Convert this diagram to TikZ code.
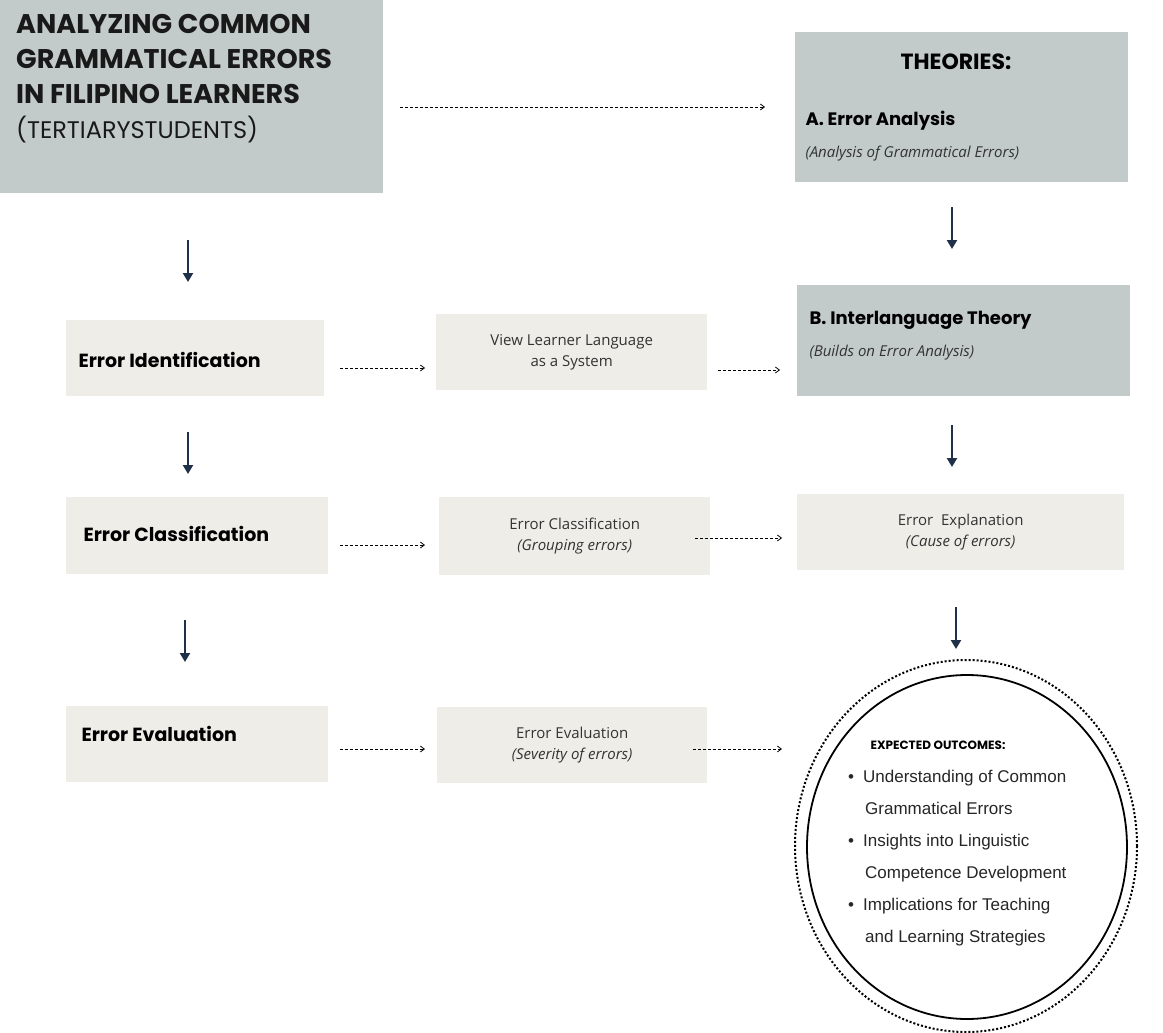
\documentclass[tikz,border=0pt]{standalone}
\usepackage{fontspec}
\setmainfont{Open Sans}
\newfontfamily\pop{Poppins}
\newfontfamily\ari{Liberation Sans}
\usetikzlibrary{arrows.meta,shapes.geometric}
\definecolor{slate}{HTML}{C3CBCA}
\definecolor{cream}{HTML}{EFEDE8}
\definecolor{navy}{HTML}{1F3049}
\begin{document}
\begin{tikzpicture}[x=1pt,y=-1pt,
  gbox/.style={fill=slate,draw=none,inner sep=0,anchor=north west},
  cbox/.style={fill=cream,draw=none,inner sep=0,anchor=north west},
  down/.style={navy,line width=2.2pt,-{Triangle[length=9pt,width=10pt]}},
  dasharrow/.style={densely dashed,line width=0.8pt,-{Straight Barb[length=4pt,width=6pt]}},
  lbl/.style={align=center,font=\fontsize{15}{21}\selectfont,text=black!80}]
\useasboundingbox (0,0) rectangle (1163,1033);
\fill[white] (0,0) rectangle (1163,1033);
% boxes
\node[gbox,minimum width=383pt,minimum height=193pt] (title) at (0,0) {};
\node[anchor=north west,align=left,inner sep=0,font=\pop\bfseries\fontsize{27}{35}\selectfont,text=black!90] at (16,14)
 {ANALYZING COMMON\\GRAMMATICAL ERRORS\\IN FILIPINO LEARNERS\\{\mdseries\fontsize{24}{30}\selectfont (TERTIARYSTUDENTS)}};
\node[gbox,minimum width=333pt,minimum height=150pt] (th) at (795,32) {};
\node[font=\pop\bfseries\fontsize{22}{26}\selectfont] at (956,62) {THEORIES:};
\node[anchor=west,font=\pop\bfseries\fontsize{18}{22}\selectfont] at (802,121) {A. Error Analysis};
\node[anchor=west,font=\itshape\fontsize{15}{20}\selectfont,text=black!80] at (802,154) {(Analysis of Grammatical Errors)};
\node[gbox,minimum width=333pt,minimum height=111pt] (il) at (797,285) {};
\node[anchor=west,font=\pop\bfseries\fontsize{18}{22}\selectfont] at (806,320) {B. Interlanguage Theory};
\node[anchor=west,font=\itshape\fontsize{15}{20}\selectfont,text=black!80] at (806,353) {(Builds on Error Analysis)};

\node[cbox,minimum width=258pt,minimum height=76pt] (ei) at (66,320) {};
\node[anchor=west,font=\pop\bfseries\fontsize{19}{22}\selectfont] at (75,360) {Error Identification};
\node[cbox,minimum width=271pt,minimum height=76pt] (vl) at (436,314) {};
\node[lbl] at (vl.center) {View Learner Language\\as a System};

\node[cbox,minimum width=262pt,minimum height=77pt] (ec) at (66,497) {};
\node[anchor=west,font=\pop\bfseries\fontsize{19}{22}\selectfont] at (80,534) {Error Classification};
\node[cbox,minimum width=271pt,minimum height=78pt] (ecm) at (439,497) {};
\node[lbl] at (ecm.center) {Error Classification\\\itshape(Grouping errors)};
\node[cbox,minimum width=327pt,minimum height=76pt] (ee) at (797,494) {};
\node[lbl] at (ee.center) {Error\ \ Explanation\\\itshape(Cause of errors)};

\node[cbox,minimum width=262pt,minimum height=76pt] (ev) at (66,706) {};
\node[anchor=west,font=\pop\bfseries\fontsize{19}{22}\selectfont] at (78,734) {Error Evaluation};
\node[cbox,minimum width=270pt,minimum height=76pt] (evm) at (437,707) {};
\node[lbl] at (evm.center) {Error Evaluation\\\itshape(Severity of errors)};

% circle
\node[draw,dotted,line width=2pt,ellipse,minimum width=342pt,minimum height=372pt,inner sep=0] (oc) at (966,846) {};
\draw[line width=1.8pt] (967,847) ellipse [x radius=160, y radius=172];
\node[anchor=west,font=\pop\bfseries\fontsize{12}{14}\selectfont] at (867,745) {EXPECTED OUTCOMES:};
\node[anchor=north west,align=left,inner sep=0,font=\ari\fontsize{17}{32}\selectfont,text=black!85] at (848,770)
 {\textbullet\hspace{9pt}Understanding of Common\\\hspace{17pt}Grammatical Errors\\\textbullet\hspace{9pt}Insights into Linguistic\\\hspace{17pt}Competence Development\\\textbullet\hspace{9pt}Implications for Teaching\\\hspace{17pt}and Learning Strategies};

% down arrows
\coordinate (d1a) at (188,240); \coordinate (d1b) at (188,282);
\coordinate (d2a) at (188,432); \coordinate (d2b) at (188,474);
\coordinate (d3a) at (185,620); \coordinate (d3b) at (185,662);
\coordinate (d4a) at (952,207); \coordinate (d4b) at (952,249);
\coordinate (d5a) at (952,425); \coordinate (d5b) at (952,467);
\coordinate (d6a) at (956,607); \coordinate (d6b) at (956,649);
\foreach \i in {1,...,6} \draw[down] (d\i a) -- (d\i b);
% dashed arrows
\coordinate (h1a) at (400,107); \coordinate (h1b) at (765,107);
\coordinate (h2a) at (340,368); \coordinate (h2b) at (425,368);
\coordinate (h3a) at (718,370); \coordinate (h3b) at (780,370);
\coordinate (h4a) at (340,545); \coordinate (h4b) at (425,545);
\coordinate (h5a) at (695,538); \coordinate (h5b) at (782,538);
\coordinate (h6a) at (340,749); \coordinate (h6b) at (425,749);
\coordinate (h7a) at (693,749); \coordinate (h7b) at (782,749);
\foreach \i in {1,...,7} \draw[dasharrow] (h\i a) -- (h\i b);
\end{tikzpicture}
\end{document}
